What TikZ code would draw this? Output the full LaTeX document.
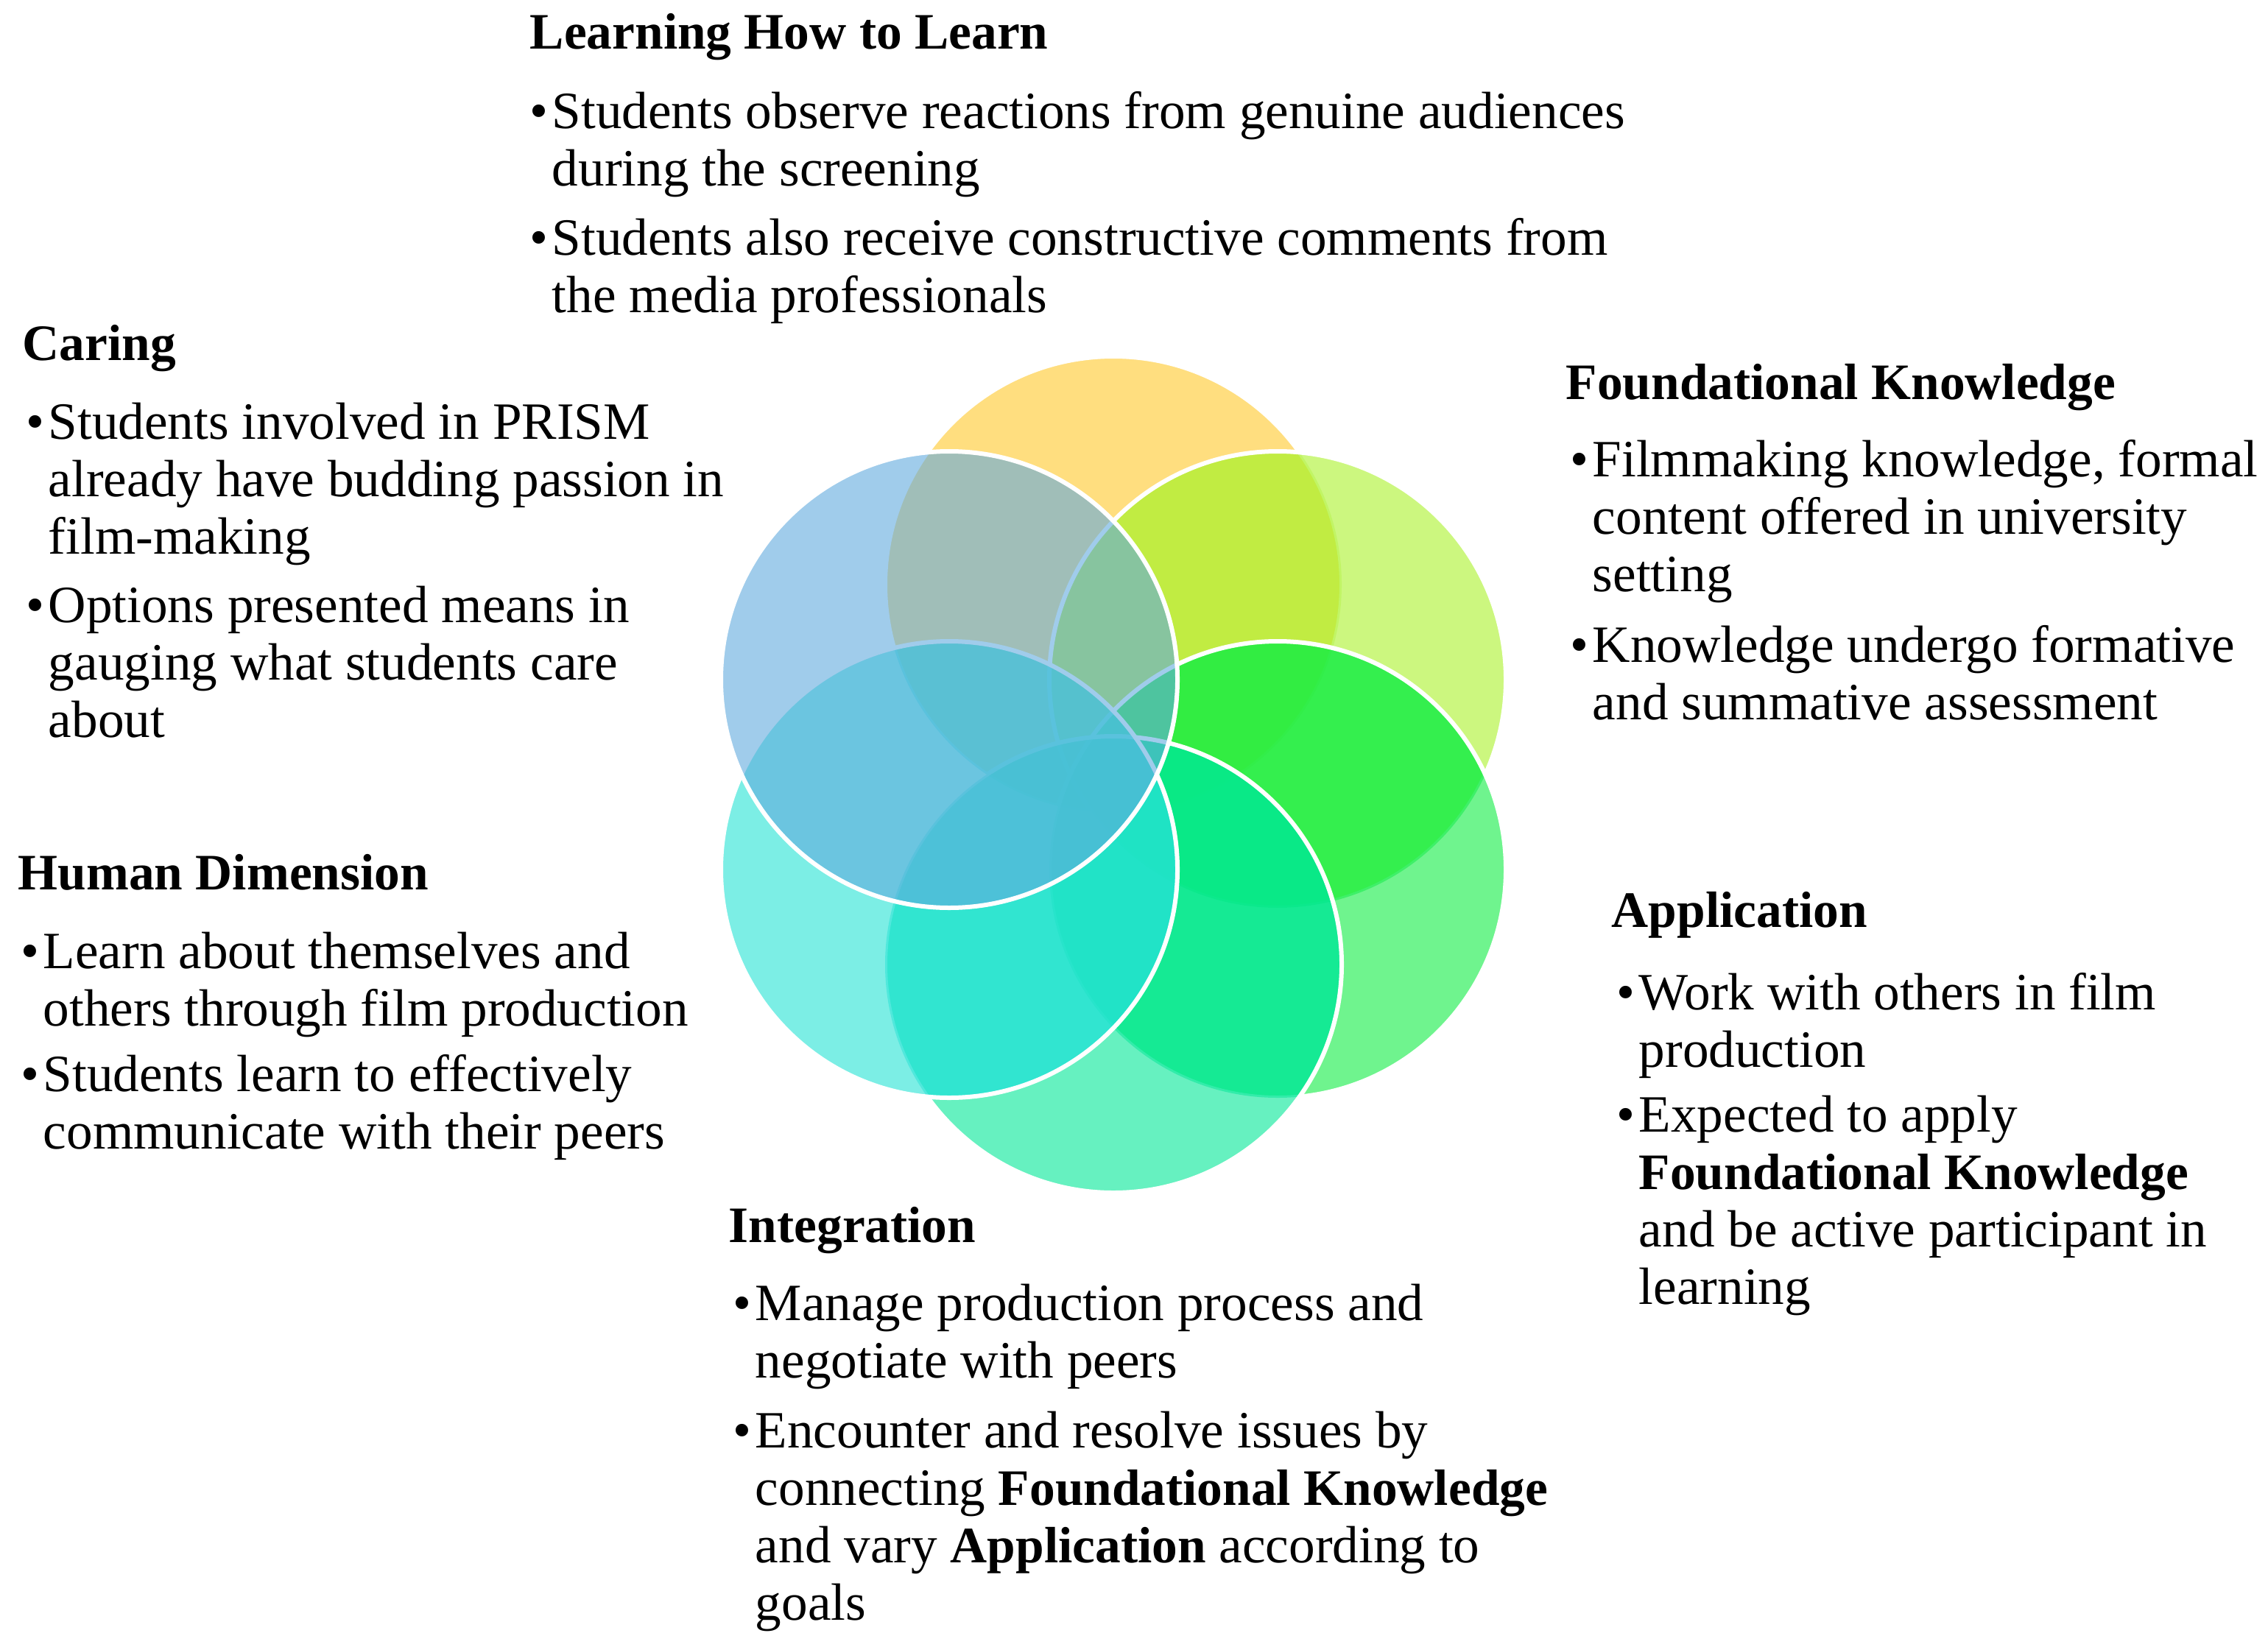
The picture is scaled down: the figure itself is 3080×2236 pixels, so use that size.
\documentclass[tikz,border=0pt]{standalone}
\usepackage{fontspec}
\setmainfont{Liberation Serif}

\definecolor{petalA}{RGB}{255,200,42}
\definecolor{petalB}{RGB}{170,242,43}
\definecolor{petalC}{RGB}{15,238,67}
\definecolor{petalD}{RGB}{0,233,150}
\definecolor{petalE}{RGB}{37,227,212}
\definecolor{petalF}{RGB}{97,170,222}

\newcommand{\bodyfont}{\fontsize{17.8}{19.5}\selectfont}
\newcommand{\headfont}{\fontsize{17.35}{19.5}\selectfont\bfseries}
\newcommand{\kw}[1]{{\fontsize{17.35}{19.5}\selectfont\bfseries #1}}
% bullet with hanging lines
\newcommand{\bl}[1]{\makebox[7.5pt][l]{\textbullet}\begin{tabular}[t]{@{}l@{}}#1\end{tabular}}

\tikzset{
  head/.style={anchor=base west, inner sep=0pt, font=\headfont},
  item/.style={anchor=base west, inner sep=0pt, font=\bodyfont},
  petal/.style={fill opacity=0.6},
  rim/.style={draw=white, line width=1.5pt},
}
\def\rr{310}

\begin{document}
\begin{tikzpicture}[x=0.25pt, y=-0.25pt]
\useasboundingbox[fill=white] (0,0) rectangle (3080,2236);

% petal centres
\coordinate (pA) at (1512,794);
\coordinate (pB) at (1735,923);
\coordinate (pC) at (1735,1181);
\coordinate (pD) at (1512,1310);
\coordinate (pE) at (1289,1181);
\coordinate (pF) at (1289,923);

% each petal: light fill, deeper tint where it covers earlier petals, white rim
\fill[petal, petalA] (pA) circle (\rr);
\draw[rim] (pA) circle (\rr);

\fill[petal, petalB] (pB) circle (\rr);
\begin{scope}
  \clip (pB) circle (\rr);
  \fill[petalB, fill opacity=0.3] (pA) circle (\rr);
\end{scope}
\draw[rim] (pB) circle (\rr);

\fill[petal, petalC] (pC) circle (\rr);
\begin{scope}
  \clip (pC) circle (\rr);
  \fill[petalC, fill opacity=0.5] (pA) circle (\rr) (pB) circle (\rr);
\end{scope}
\draw[rim] (pC) circle (\rr);

\fill[petal, petalD] (pD) circle (\rr);
\begin{scope}
  \clip (pD) circle (\rr);
  \fill[petalD, fill opacity=0.5] (pA) circle (\rr) (pB) circle (\rr) (pC) circle (\rr);
\end{scope}
\draw[rim] (pD) circle (\rr);

\fill[petal, petalE] (pE) circle (\rr);
\begin{scope}
  \clip (pE) circle (\rr);
  \fill[petalE, fill opacity=0.5] (pA) circle (\rr) (pB) circle (\rr) (pC) circle (\rr) (pD) circle (\rr);
\end{scope}
\draw[rim] (pE) circle (\rr);

\fill[petal, petalF] (pF) circle (\rr);
\draw[rim] (pF) circle (\rr);

% Learning How to Learn
\node[head] (lhl) at (719,67) {Learning How to Learn};
\node[item] (lhl1) at (719,175) {\bl{Students observe reactions from genuine audiences\\during the screening}};
\node[item] (lhl2) at (719,347) {\bl{Students also receive constructive comments from\\the media professionals}};

% Caring
\node[head] (car) at (30,489) {Caring};
\node[item] (car1) at (35,596) {\bl{Students involved in PRISM\\already have budding passion in\\film-making}};
\node[item] (car2) at (35,845) {\bl{Options presented means in\\gauging what students care\\about}};

% Human Dimension
\node[head] (hum) at (24,1208) {Human Dimension};
\node[item] (hum1) at (28,1315) {\bl{Learn about themselves and\\others through film production}};
\node[item] (hum2) at (28,1482) {\bl{Students learn to effectively\\communicate with their peers}};

% Foundational Knowledge
\node[head] (fnd) at (2126,542) {Foundational Knowledge};
\node[item] (fnd1) at (2132,647) {\bl{Filmmaking knowledge, formal\\content offered in university\\setting}};
\node[item] (fnd2) at (2132,899) {\bl{Knowledge undergo formative\\and summative assessment}};

% Application
\node[head] (app) at (2188,1259) {Application};
\node[item] (app1) at (2195,1371) {\bl{Work with others in film\\production}};
\node[item] (app2) at (2195,1537) {\bl{Expected to apply\\\kw{Foundational Knowledge}\\and be active participant in\\learning}};

% Integration
\node[head] (int) at (989,1687) {Integration};
\node[item] (int1) at (995,1793) {\bl{Manage production process and\\negotiate with peers}};
\node[item] (int2) at (995,1966) {\bl{Encounter and resolve issues by\\connecting \kw{Foundational Knowledge}\\and vary \kw{Application} according to\\goals}};
\end{tikzpicture}
\end{document}
